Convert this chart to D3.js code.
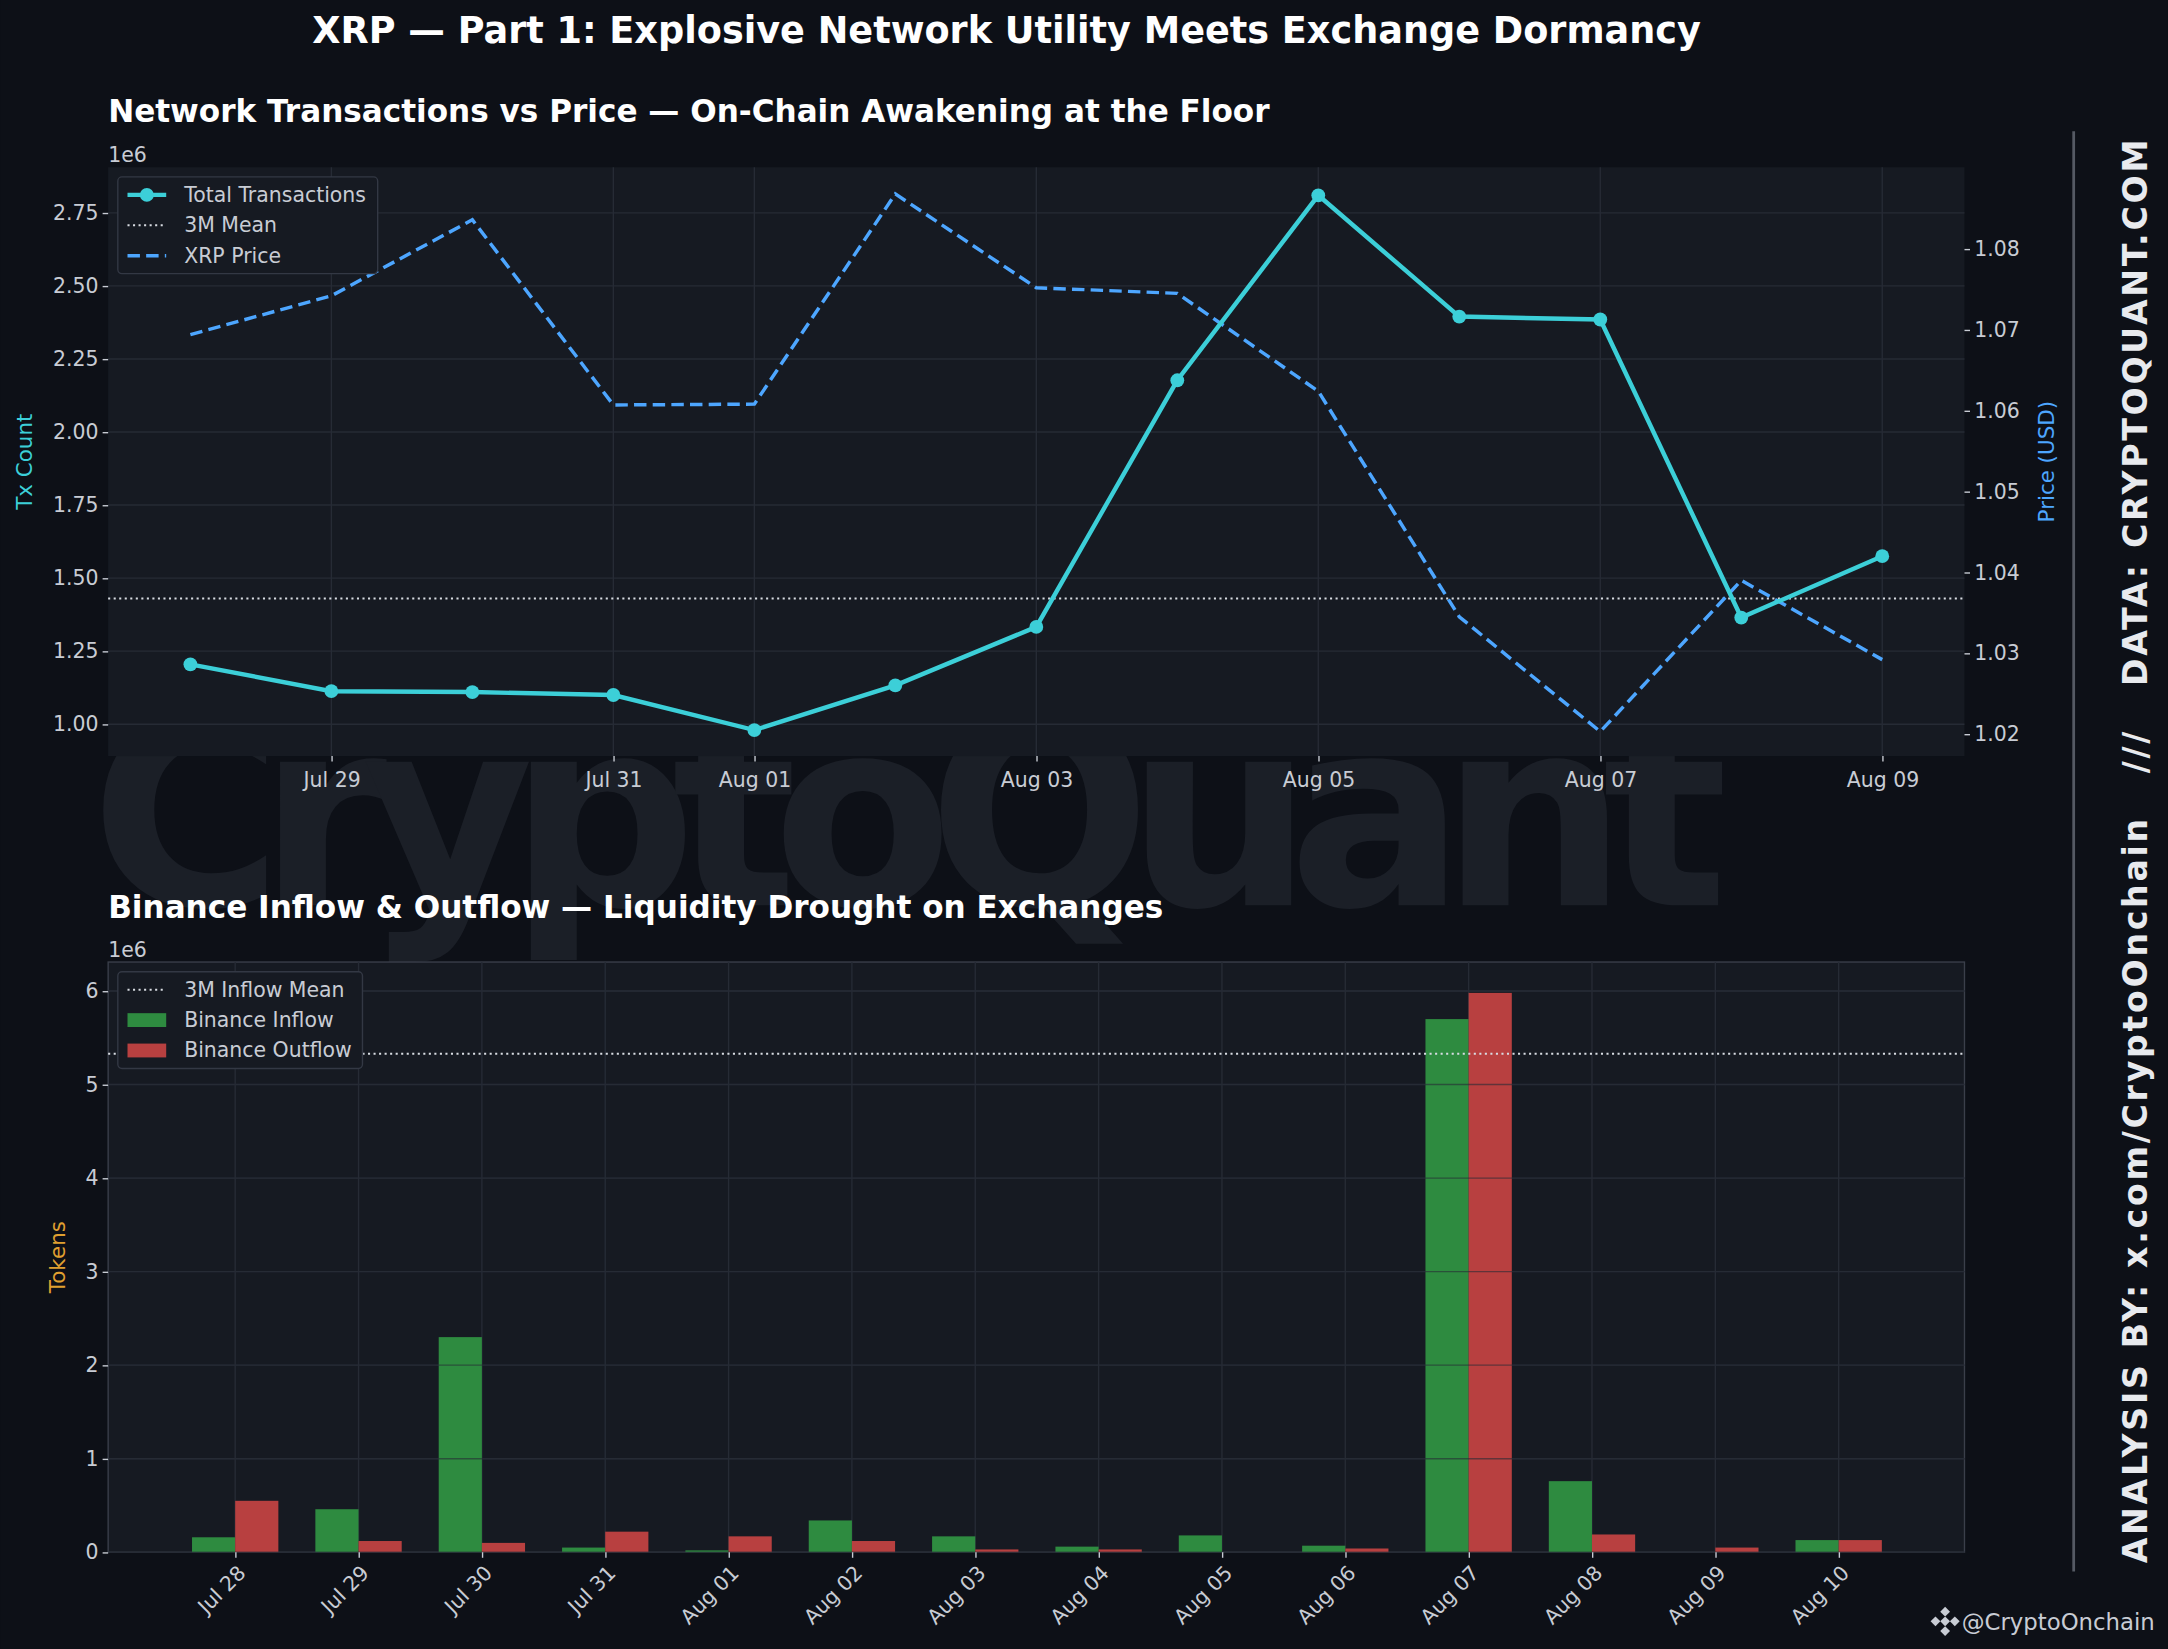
<!DOCTYPE html><html><head><meta charset="utf-8">
<script src="https://cdn.jsdelivr.net/npm/d3@7"></script>
<style>html,body{margin:0;background:#0d1017;}svg{display:block;font-family:"DejaVu Sans",sans-serif;}</style></head><body>
<script>
const dates=["2024-07-28","2024-07-29","2024-07-30","2024-07-31","2024-08-01","2024-08-02","2024-08-03","2024-08-04","2024-08-05","2024-08-06","2024-08-07","2024-08-08","2024-08-09"];
const txCount=[1.205,1.113,1.110,1.100,0.980,1.133,1.333,2.177,2.810,2.395,2.385,1.365,1.575];
const price=[1.0694,1.0742,1.0836,1.0607,1.0608,1.0868,1.0752,1.0745,1.0624,1.0345,1.0203,1.0390,1.0292];
const txMean=1.430;
const topTicks=["2024-07-29","2024-07-31","2024-08-01","2024-08-03","2024-08-05","2024-08-07","2024-08-09"];
const barCats=["Jul 28","Jul 29","Jul 30","Jul 31","Aug 01","Aug 02","Aug 03","Aug 04","Aug 05","Aug 06","Aug 07","Aug 08","Aug 09","Aug 10"];
const inflow=[0.16,0.46,2.30,0.05,0.02,0.34,0.17,0.06,0.18,0.07,5.70,0.76,0.0,0.13];
const outflow=[0.55,0.12,0.10,0.22,0.17,0.12,0.03,0.03,0.0,0.04,5.98,0.19,0.05,0.13];
const inflowMean=5.33;

const W=1568,H=1193,FS=14.8;
const svg=d3.select("body").append("svg").attr("width",2168).attr("height",1649).attr("viewBox",`0 0 ${W} ${H}`);
svg.append("rect").attr("width",W).attr("height",H).attr("fill","#0d1017");
svg.append("text").attr("x",65).attr("y",655).attr("font-size",190).attr("font-weight","bold").attr("fill","#1b1f27").attr("textLength",1185).text("CryptoQuant");
svg.append("text").attr("x",728).attr("y",31).attr("text-anchor","middle").attr("font-size",26.5).attr("font-weight","bold").attr("fill","#fff").text("XRP — Part 1: Explosive Network Utility Meets Exchange Dormancy");
const tc="#c8ccd4",grid="#262b35";
const L=78,R=1421,T1=121,B1=547;
svg.append("text").attr("x",L).attr("y",88).attr("font-size",22.5).attr("font-weight","bold").attr("fill","#fff").text("Network Transactions vs Price — On-Chain Awakening at the Floor");
const pd=d3.timeParse("%Y-%m-%d");
const x=d3.scaleTime().domain([d3.timeHour.offset(pd(dates[0]),-13.9),d3.timeHour.offset(pd(dates[12]),14.1)]).range([L,R]);
const y1=d3.scaleLinear().domain([0.891,2.906]).range([B1,T1]);
const y2=d3.scaleLinear().domain([1.01727,1.0901]).range([B1,T1]);
const g1=svg.append("g");
g1.append("rect").attr("x",L).attr("y",T1).attr("width",R-L).attr("height",B1-T1).attr("fill","#161a22");
const lt=[1.0,1.25,1.5,1.75,2.0,2.25,2.5,2.75];
g1.selectAll(".hg").data(lt).join("line").attr("x1",L).attr("x2",R).attr("y1",d=>y1(d)).attr("y2",d=>y1(d)).attr("stroke",grid);
g1.selectAll(".vg").data(topTicks).join("line").attr("y1",T1).attr("y2",B1).attr("x1",d=>x(pd(d))).attr("x2",d=>x(pd(d))).attr("stroke",grid);
const ax1=g1.append("g").attr("transform",`translate(${L},0)`).call(d3.axisLeft(y1).tickValues(lt).tickFormat(d3.format(".2f")).tickSize(4));
const ax2=g1.append("g").attr("transform",`translate(${R},0)`).call(d3.axisRight(y2).tickValues([1.02,1.03,1.04,1.05,1.06,1.07,1.08]).tickFormat(d3.format(".2f")).tickSize(4));
const axx=g1.append("g").attr("transform",`translate(0,${B1})`).call(d3.axisBottom(x).tickValues(topTicks.map(pd)).tickFormat(d3.timeFormat("%b %d")).tickSize(4));
[ax1,ax2,axx].forEach(a=>{a.select(".domain").remove();a.selectAll("line").attr("stroke",tc);a.selectAll("text").attr("fill",tc).attr("font-size",FS).attr("font-family","DejaVu Sans");});
axx.selectAll("text").attr("dy","1.05em");
g1.append("text").attr("x",L).attr("y",117).attr("font-size",FS).attr("fill",tc).text("1e6");
g1.append("line").attr("x1",L).attr("x2",R).attr("y1",y1(txMean)).attr("y2",y1(txMean)).attr("stroke","#d8dce2").attr("stroke-width",1.4).attr("stroke-dasharray","1.5,2.5");
g1.append("path").datum(dates).attr("fill","none").attr("stroke","#4da6ff").attr("stroke-width",2.5).attr("stroke-dasharray","9,4.5")
 .attr("d",d3.line().x(d=>x(pd(d))).y((d,i)=>y2(price[i])));
g1.append("path").datum(dates).attr("fill","none").attr("stroke","#3ccfd8").attr("stroke-width",3.2)
 .attr("d",d3.line().x(d=>x(pd(d))).y((d,i)=>y1(txCount[i])));
g1.selectAll(".pt").data(dates).join("circle").attr("cx",d=>x(pd(d))).attr("cy",(d,i)=>y1(txCount[i])).attr("r",5).attr("fill","#3ccfd8");
g1.append("text").attr("transform",`translate(23,${(T1+B1)/2}) rotate(-90)`).attr("text-anchor","middle").attr("font-size",15.5).attr("fill","#3ccfd8").text("Tx Count");
g1.append("text").attr("transform",`translate(1486,${(T1+B1)/2}) rotate(-90)`).attr("text-anchor","middle").attr("font-size",15.5).attr("fill","#4da6ff").text("Price (USD)");
const lg1=g1.append("g").attr("transform","translate(85,128)");
lg1.append("rect").attr("width",188).attr("height",70).attr("rx",3).attr("fill","#161a22").attr("stroke","#333844");
lg1.append("line").attr("x1",7).attr("x2",35).attr("y1",13).attr("y2",13).attr("stroke","#3ccfd8").attr("stroke-width",3);
lg1.append("circle").attr("cx",21).attr("cy",13).attr("r",5).attr("fill","#3ccfd8");
lg1.append("line").attr("x1",7).attr("x2",35).attr("y1",35).attr("y2",35).attr("stroke","#d8dce2").attr("stroke-dasharray","1.5,2.5").attr("stroke-width",1.4);
lg1.append("line").attr("x1",7).attr("x2",35).attr("y1",57).attr("y2",57).attr("stroke","#4da6ff").attr("stroke-dasharray","9,4.5").attr("stroke-width",2.5);
["Total Transactions","3M Mean","XRP Price"].forEach((t,i)=>lg1.append("text").attr("x",48).attr("y",18+i*22).attr("font-size",FS).attr("fill",tc).text(t));
const T2=696,B2=1123;
svg.append("text").attr("x",L).attr("y",664).attr("font-size",22.5).attr("font-weight","bold").attr("fill","#fff").text("Binance Inflow & Outflow — Liquidity Drought on Exchanges");
const xb=d3.scaleLinear().domain([-1.03,14.02]).range([L,R]);
const y3=d3.scaleLinear().domain([0,6.31]).range([B2,T2]);
const g2=svg.append("g");
g2.append("rect").attr("x",L).attr("y",T2).attr("width",R-L).attr("height",B2-T2).attr("fill","#161a22").attr("stroke","#3a3f4a");
const bt=[0,1,2,3,4,5,6];
g2.selectAll(".hg").data(bt).join("line").attr("x1",L).attr("x2",R).attr("y1",d=>y3(d)).attr("y2",d=>y3(d)).attr("stroke",grid);
g2.selectAll(".vg").data(barCats).join("line").attr("y1",T2).attr("y2",B2).attr("x1",(d,i)=>xb(i)).attr("x2",(d,i)=>xb(i)).attr("stroke",grid);
const bw=0.35;
g2.selectAll(".bi").data(inflow).join("rect").attr("x",(d,i)=>xb(i-bw)).attr("width",xb(bw)-xb(0)).attr("y",d=>y3(d)).attr("height",d=>y3(0)-y3(d)).attr("fill","#2e8b40");
g2.selectAll(".bo").data(outflow).join("rect").attr("x",(d,i)=>xb(i)).attr("width",xb(bw)-xb(0)).attr("y",d=>y3(d)).attr("height",d=>y3(0)-y3(d)).attr("fill","#b84040");
g2.selectAll(".hg2").data(bt).join("line").attr("x1",L).attr("x2",R).attr("y1",d=>y3(d)).attr("y2",d=>y3(d)).attr("stroke","#262b35").attr("stroke-opacity",0.6);
g2.append("line").attr("x1",L).attr("x2",R).attr("y1",y3(inflowMean)).attr("y2",y3(inflowMean)).attr("stroke","#d8dce2").attr("stroke-width",1.4).attr("stroke-dasharray","1.5,2.5");
const ab1=g2.append("g").attr("transform",`translate(${L},0)`).call(d3.axisLeft(y3).tickValues(bt).tickFormat(d3.format("d")).tickSize(4));
const abx=g2.append("g").attr("transform",`translate(0,${B2})`).call(d3.axisBottom(xb).tickValues(d3.range(14)).tickFormat(i=>barCats[i]).tickSize(4));
[ab1,abx].forEach(a=>{a.select(".domain").remove();a.selectAll("line").attr("stroke",tc);a.selectAll("text").attr("fill",tc).attr("font-size",FS).attr("font-family","DejaVu Sans");});
abx.selectAll("text").attr("text-anchor","end").attr("dy",0).attr("transform","translate(3,11) rotate(-45)");
g2.append("text").attr("x",L).attr("y",692).attr("font-size",FS).attr("fill",tc).text("1e6");
g2.append("text").attr("transform",`translate(47,${(T2+B2)/2}) rotate(-90)`).attr("text-anchor","middle").attr("font-size",15.5).attr("fill","#e0a030").text("Tokens");
const lg2=g2.append("g").attr("transform","translate(85,703)");
lg2.append("rect").attr("width",177).attr("height",70).attr("rx",3).attr("fill","#161a22").attr("stroke","#333844");
lg2.append("line").attr("x1",7).attr("x2",35).attr("y1",13).attr("y2",13).attr("stroke","#d8dce2").attr("stroke-dasharray","1.5,2.5").attr("stroke-width",1.4);
lg2.append("rect").attr("x",7).attr("y",30).attr("width",28).attr("height",10).attr("fill","#2e8b40");
lg2.append("rect").attr("x",7).attr("y",52).attr("width",28).attr("height",10).attr("fill","#b84040");
["3M Inflow Mean","Binance Inflow","Binance Outflow"].forEach((t,i)=>lg2.append("text").attr("x",48).attr("y",18+i*22).attr("font-size",FS).attr("fill",tc).text(t));
svg.append("line").attr("x1",1500).attr("x2",1500).attr("y1",95).attr("y2",1137).attr("stroke","#555a64").attr("stroke-width",2);
svg.append("text").attr("transform","translate(1553,616) rotate(-90)").attr("text-anchor","middle").attr("font-size",24).attr("font-weight","bold").attr("fill","#e8eaee").attr("textLength",1030).attr("xml:space","preserve").text("ANALYSIS BY: x.com/CryptoOnchain   ///   DATA: CRYPTOQUANT.COM");
const ic=svg.append("g").attr("transform","translate(1407,1173)").attr("fill","#c8ccd4");
[[0,-7],[-7,0],[7,0],[0,7],[0,0]].forEach(p=>ic.append("rect").attr("x",p[0]-2.5).attr("y",p[1]-2.5).attr("width",5).attr("height",5).attr("transform",`rotate(45 ${p[0]} ${p[1]})`));
svg.append("text").attr("x",1419).attr("y",1179).attr("font-size",16.5).attr("fill","#c8ccd4").text("@CryptoOnchain");
</script></body></html>
